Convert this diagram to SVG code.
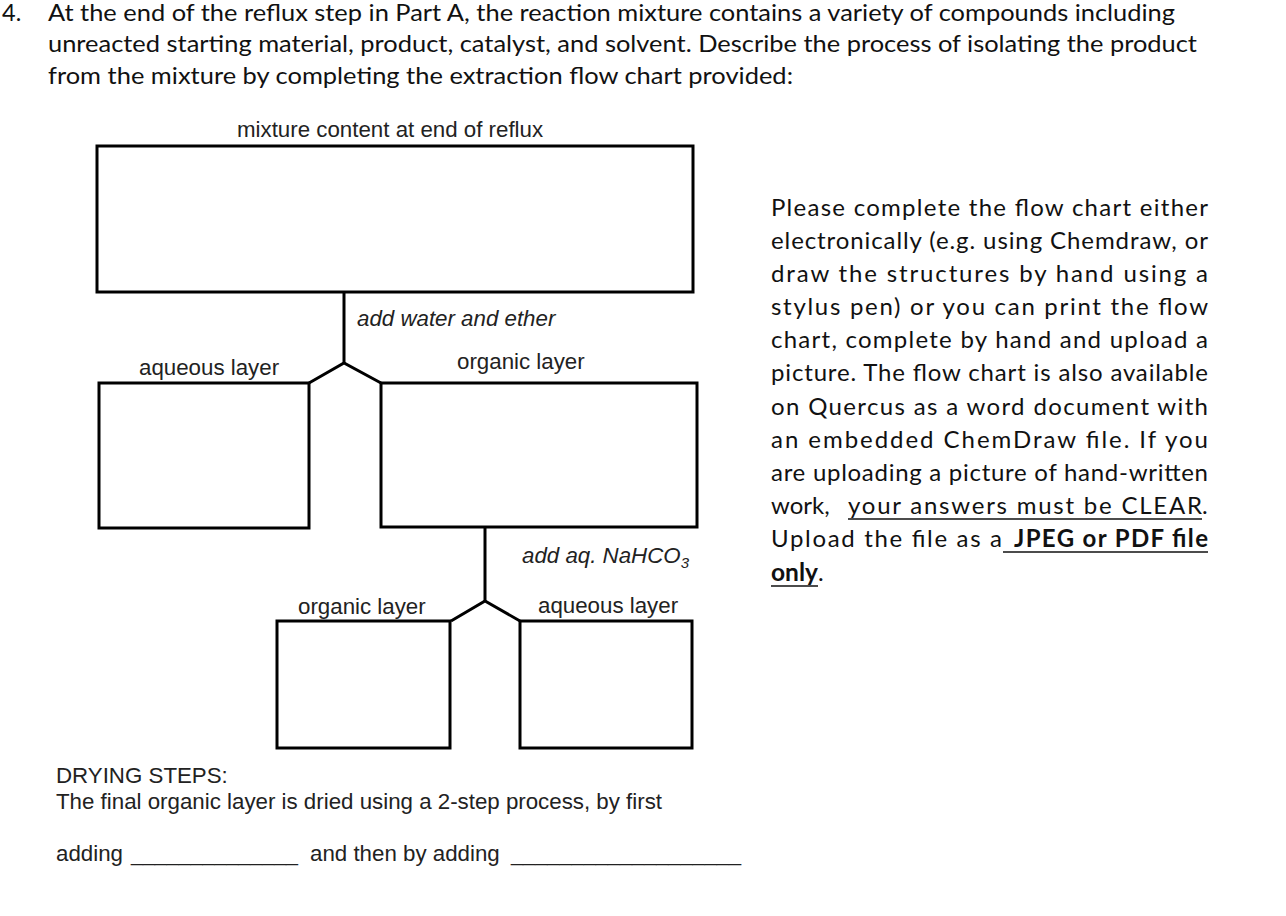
<svg xmlns="http://www.w3.org/2000/svg" width="1286" height="916" viewBox="0 0 1286 916">
<style>
.hd{font-family:"Lato","Open Sans","Liberation Sans",sans-serif;font-size:23.5px;fill:#111}
.pr{font-family:"Lato","Open Sans","Liberation Sans",sans-serif;font-size:24px;fill:#111}
.b{font-weight:bold}
.lb{font-family:"Liberation Sans",Arial,sans-serif;font-size:22.3px;fill:#222}
.it{font-style:italic}
.box{fill:#fff;stroke:#000;stroke-width:3}
.con{fill:none;stroke:#000;stroke-width:3;stroke-linejoin:miter}
.ul{stroke:#111;stroke-width:1.6}
</style>
<rect width="1286" height="916" fill="#fff"/>
<g id="question">
<text class="hd" x="2" y="20.5">4.</text>
<text class="hd" x="48" y="20.5" textLength="1127" lengthAdjust="spacingAndGlyphs">At the end of the reflux step in Part A, the reaction mixture contains a variety of compounds including</text>
<text class="hd" x="48" y="52" textLength="1149" lengthAdjust="spacingAndGlyphs">unreacted starting material, product, catalyst, and solvent. Describe the process of isolating the product</text>
<text class="hd" x="48" y="84" textLength="745" lengthAdjust="spacingAndGlyphs">from the mixture by completing the extraction flow chart provided:</text>
</g>
<g id="instructions">
<text class="pr" x="771" y="216" textLength="437" lengthAdjust="spacing">Please complete the flow chart either</text>
<text class="pr" x="771" y="249" textLength="437" lengthAdjust="spacing">electronically (e.g. using Chemdraw, or</text>
<text class="pr" x="771" y="282" textLength="437" lengthAdjust="spacing">draw the structures by hand using a</text>
<text class="pr" x="771" y="315" textLength="437" lengthAdjust="spacing">stylus pen) or you can print the flow</text>
<text class="pr" x="771" y="348" textLength="437" lengthAdjust="spacing">chart, complete by hand and upload a</text>
<text class="pr" x="771" y="381" textLength="437" lengthAdjust="spacing">picture. The flow chart is also available</text>
<text class="pr" x="771" y="415" textLength="437" lengthAdjust="spacing">on Quercus as a word document with</text>
<text class="pr" x="771" y="448" textLength="437" lengthAdjust="spacing">an embedded ChemDraw file. If you</text>
<text class="pr" x="771" y="481" textLength="437" lengthAdjust="spacing">are uploading a picture of hand-written</text>
<text class="pr" x="771" y="514">work,</text>
<text class="pr" x="848" y="514" textLength="354" lengthAdjust="spacing">your answers must be CLEAR</text>
<text class="pr" x="1202" y="514">.</text>
<line class="ul" x1="848" y1="519" x2="1202" y2="519"/>
<text class="pr" x="771" y="547" textLength="231" lengthAdjust="spacing">Upload the file as a</text>
<text class="pr b" x="1014" y="547" textLength="194" lengthAdjust="spacing">JPEG or PDF file</text>
<line class="ul" x1="1003" y1="552" x2="1208" y2="552"/>
<text class="pr b" x="771" y="581" textLength="47" lengthAdjust="spacingAndGlyphs">only</text>
<text class="pr" x="818" y="581">.</text>
<line class="ul" x1="771" y1="586" x2="818" y2="586"/>
</g>
<g id="connectors">
<polyline class="con" points="344,292 344,363"/>
<polyline class="con" points="309,383 344,363 381,383"/>
<polyline class="con" points="485,527 485,601"/>
<polyline class="con" points="451,621 485,601 520,621"/>
</g>
<g id="node-mixture">
<text class="lb" x="237" y="137">mixture content at end of reflux</text>
<rect class="box" x="97" y="146" width="596" height="146"/>
</g>
<g id="label-water-ether">
<text class="lb it" x="357" y="326">add water and ether</text>
</g>
<g id="node-aqueous1">
<text class="lb" x="139" y="375">aqueous layer</text>
<rect class="box" x="99" y="383" width="210" height="145"/>
</g>
<g id="node-organic1">
<text class="lb" x="457" y="369">organic layer</text>
<rect class="box" x="381" y="383" width="316" height="144"/>
</g>
<g id="label-nahco3">
<text class="lb it" x="522" y="563">add aq. NaHCO<tspan font-size="15" dy="5">3</tspan></text>
</g>
<g id="node-organic2">
<text class="lb" x="298" y="614">organic layer</text>
<rect class="box" x="277" y="621" width="173" height="127"/>
</g>
<g id="node-aqueous2">
<text class="lb" x="538" y="613">aqueous layer</text>
<rect class="box" x="520" y="621" width="172" height="127"/>
</g>
<g id="drying">
<text class="lb" x="56" y="783">DRYING STEPS:</text>
<text class="lb" x="56" y="809">The final organic layer is dried using a 2-step process, by first</text>
<text class="lb" x="56" y="861">adding</text>
<text class="lb" x="131" y="861" textLength="167" lengthAdjust="spacingAndGlyphs">______________</text>
<text class="lb" x="310" y="861">and then by adding</text>
<text class="lb" x="511" y="861" textLength="230" lengthAdjust="spacingAndGlyphs">___________________</text>
</g>
</svg>
